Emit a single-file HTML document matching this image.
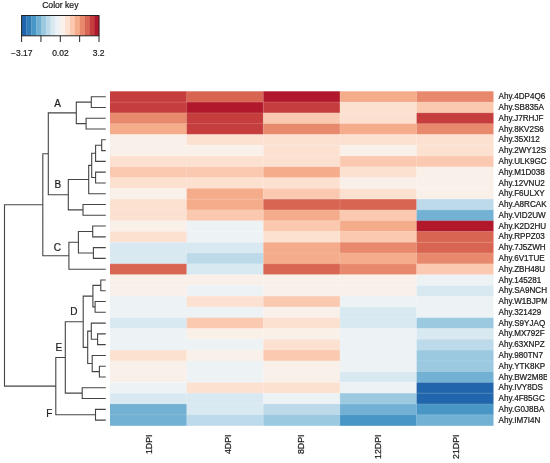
<!DOCTYPE html><html><head><meta charset="utf-8"><style>html,body{margin:0;padding:0;background:#fff;width:550px;height:463px;overflow:hidden}svg{display:block;filter:blur(0.3px)}text{font-family:"Liberation Sans",Arial,sans-serif;stroke:#1a1a1a;stroke-width:0.22px}</style></head><body>
<svg width="550" height="463" viewBox="0 0 550 463">
<rect x="110.00" y="91.30" width="76.94" height="11.08" fill="#c53e3d"/>
<rect x="186.64" y="91.30" width="76.94" height="11.08" fill="#d86551"/>
<rect x="263.28" y="91.30" width="76.94" height="11.08" fill="#b2182b"/>
<rect x="339.92" y="91.30" width="76.94" height="11.08" fill="#f5ac8b"/>
<rect x="416.56" y="91.30" width="76.94" height="11.08" fill="#e8896d"/>
<rect x="110.00" y="102.08" width="76.94" height="11.08" fill="#c53e3d"/>
<rect x="186.64" y="102.08" width="76.94" height="11.08" fill="#b2182b"/>
<rect x="263.28" y="102.08" width="76.94" height="11.08" fill="#c53e3d"/>
<rect x="339.92" y="102.08" width="76.94" height="11.08" fill="#fce1d1"/>
<rect x="416.56" y="102.08" width="76.94" height="11.08" fill="#fac9b0"/>
<rect x="110.00" y="112.86" width="76.94" height="11.08" fill="#e8896d"/>
<rect x="186.64" y="112.86" width="76.94" height="11.08" fill="#c53e3d"/>
<rect x="263.28" y="112.86" width="76.94" height="11.08" fill="#fac9b0"/>
<rect x="339.92" y="112.86" width="76.94" height="11.08" fill="#fce1d1"/>
<rect x="416.56" y="112.86" width="76.94" height="11.08" fill="#c53e3d"/>
<rect x="110.00" y="123.64" width="76.94" height="11.08" fill="#f5ac8b"/>
<rect x="186.64" y="123.64" width="76.94" height="11.08" fill="#c53e3d"/>
<rect x="263.28" y="123.64" width="76.94" height="11.08" fill="#e8896d"/>
<rect x="339.92" y="123.64" width="76.94" height="11.08" fill="#f5ac8b"/>
<rect x="416.56" y="123.64" width="76.94" height="11.08" fill="#e8896d"/>
<rect x="110.00" y="134.42" width="76.94" height="11.08" fill="#f9f0ea"/>
<rect x="186.64" y="134.42" width="76.94" height="11.08" fill="#fce1d1"/>
<rect x="263.28" y="134.42" width="76.94" height="11.08" fill="#fce1d1"/>
<rect x="339.92" y="134.42" width="76.94" height="11.08" fill="#fce1d1"/>
<rect x="416.56" y="134.42" width="76.94" height="11.08" fill="#fce1d1"/>
<rect x="110.00" y="145.20" width="76.94" height="11.08" fill="#f9f0ea"/>
<rect x="186.64" y="145.20" width="76.94" height="11.08" fill="#f9f0ea"/>
<rect x="263.28" y="145.20" width="76.94" height="11.08" fill="#fce1d1"/>
<rect x="339.92" y="145.20" width="76.94" height="11.08" fill="#f9f0ea"/>
<rect x="416.56" y="145.20" width="76.94" height="11.08" fill="#fce1d1"/>
<rect x="110.00" y="155.98" width="76.94" height="11.08" fill="#fce1d1"/>
<rect x="186.64" y="155.98" width="76.94" height="11.08" fill="#fce1d1"/>
<rect x="263.28" y="155.98" width="76.94" height="11.08" fill="#fce1d1"/>
<rect x="339.92" y="155.98" width="76.94" height="11.08" fill="#fac9b0"/>
<rect x="416.56" y="155.98" width="76.94" height="11.08" fill="#fac9b0"/>
<rect x="110.00" y="166.76" width="76.94" height="11.08" fill="#fac9b0"/>
<rect x="186.64" y="166.76" width="76.94" height="11.08" fill="#fac9b0"/>
<rect x="263.28" y="166.76" width="76.94" height="11.08" fill="#f5ac8b"/>
<rect x="339.92" y="166.76" width="76.94" height="11.08" fill="#fce1d1"/>
<rect x="416.56" y="166.76" width="76.94" height="11.08" fill="#f9f0ea"/>
<rect x="110.00" y="177.55" width="76.94" height="11.08" fill="#fce1d1"/>
<rect x="186.64" y="177.55" width="76.94" height="11.08" fill="#fce1d1"/>
<rect x="263.28" y="177.55" width="76.94" height="11.08" fill="#fce1d1"/>
<rect x="339.92" y="177.55" width="76.94" height="11.08" fill="#f9f0ea"/>
<rect x="416.56" y="177.55" width="76.94" height="11.08" fill="#f9f0ea"/>
<rect x="110.00" y="188.33" width="76.94" height="11.08" fill="#f9f0ea"/>
<rect x="186.64" y="188.33" width="76.94" height="11.08" fill="#f5ac8b"/>
<rect x="263.28" y="188.33" width="76.94" height="11.08" fill="#fac9b0"/>
<rect x="339.92" y="188.33" width="76.94" height="11.08" fill="#fce1d1"/>
<rect x="416.56" y="188.33" width="76.94" height="11.08" fill="#f9f0ea"/>
<rect x="110.00" y="199.11" width="76.94" height="11.08" fill="#fce1d1"/>
<rect x="186.64" y="199.11" width="76.94" height="11.08" fill="#f5ac8b"/>
<rect x="263.28" y="199.11" width="76.94" height="11.08" fill="#d86551"/>
<rect x="339.92" y="199.11" width="76.94" height="11.08" fill="#d86551"/>
<rect x="416.56" y="199.11" width="76.94" height="11.08" fill="#bcdaea"/>
<rect x="110.00" y="209.89" width="76.94" height="11.08" fill="#fce1d1"/>
<rect x="186.64" y="209.89" width="76.94" height="11.08" fill="#fac9b0"/>
<rect x="263.28" y="209.89" width="76.94" height="11.08" fill="#f5ac8b"/>
<rect x="339.92" y="209.89" width="76.94" height="11.08" fill="#fac9b0"/>
<rect x="416.56" y="209.89" width="76.94" height="11.08" fill="#72b1d3"/>
<rect x="110.00" y="220.67" width="76.94" height="11.08" fill="#f9f0ea"/>
<rect x="186.64" y="220.67" width="76.94" height="11.08" fill="#edf2f5"/>
<rect x="263.28" y="220.67" width="76.94" height="11.08" fill="#fac9b0"/>
<rect x="339.92" y="220.67" width="76.94" height="11.08" fill="#f5ac8b"/>
<rect x="416.56" y="220.67" width="76.94" height="11.08" fill="#b2182b"/>
<rect x="110.00" y="231.45" width="76.94" height="11.08" fill="#fce1d1"/>
<rect x="186.64" y="231.45" width="76.94" height="11.08" fill="#edf2f5"/>
<rect x="263.28" y="231.45" width="76.94" height="11.08" fill="#fce1d1"/>
<rect x="339.92" y="231.45" width="76.94" height="11.08" fill="#fac9b0"/>
<rect x="416.56" y="231.45" width="76.94" height="11.08" fill="#d86551"/>
<rect x="110.00" y="242.23" width="76.94" height="11.08" fill="#d9e9f1"/>
<rect x="186.64" y="242.23" width="76.94" height="11.08" fill="#d9e9f1"/>
<rect x="263.28" y="242.23" width="76.94" height="11.08" fill="#f5ac8b"/>
<rect x="339.92" y="242.23" width="76.94" height="11.08" fill="#e8896d"/>
<rect x="416.56" y="242.23" width="76.94" height="11.08" fill="#d86551"/>
<rect x="110.00" y="253.01" width="76.94" height="11.08" fill="#d9e9f1"/>
<rect x="186.64" y="253.01" width="76.94" height="11.08" fill="#bcdaea"/>
<rect x="263.28" y="253.01" width="76.94" height="11.08" fill="#f5ac8b"/>
<rect x="339.92" y="253.01" width="76.94" height="11.08" fill="#f5ac8b"/>
<rect x="416.56" y="253.01" width="76.94" height="11.08" fill="#e8896d"/>
<rect x="110.00" y="263.79" width="76.94" height="11.08" fill="#d86551"/>
<rect x="186.64" y="263.79" width="76.94" height="11.08" fill="#d9e9f1"/>
<rect x="263.28" y="263.79" width="76.94" height="11.08" fill="#d86551"/>
<rect x="339.92" y="263.79" width="76.94" height="11.08" fill="#e8896d"/>
<rect x="416.56" y="263.79" width="76.94" height="11.08" fill="#fac9b0"/>
<rect x="110.00" y="274.57" width="76.94" height="11.08" fill="#f9f0ea"/>
<rect x="186.64" y="274.57" width="76.94" height="11.08" fill="#f9f0ea"/>
<rect x="263.28" y="274.57" width="76.94" height="11.08" fill="#f9f0ea"/>
<rect x="339.92" y="274.57" width="76.94" height="11.08" fill="#f9f0ea"/>
<rect x="416.56" y="274.57" width="76.94" height="11.08" fill="#edf2f5"/>
<rect x="110.00" y="285.35" width="76.94" height="11.08" fill="#f9f0ea"/>
<rect x="186.64" y="285.35" width="76.94" height="11.08" fill="#edf2f5"/>
<rect x="263.28" y="285.35" width="76.94" height="11.08" fill="#f9f0ea"/>
<rect x="339.92" y="285.35" width="76.94" height="11.08" fill="#f9f0ea"/>
<rect x="416.56" y="285.35" width="76.94" height="11.08" fill="#d9e9f1"/>
<rect x="110.00" y="296.13" width="76.94" height="11.08" fill="#edf2f5"/>
<rect x="186.64" y="296.13" width="76.94" height="11.08" fill="#fce1d1"/>
<rect x="263.28" y="296.13" width="76.94" height="11.08" fill="#fac9b0"/>
<rect x="339.92" y="296.13" width="76.94" height="11.08" fill="#edf2f5"/>
<rect x="416.56" y="296.13" width="76.94" height="11.08" fill="#edf2f5"/>
<rect x="110.00" y="306.91" width="76.94" height="11.08" fill="#edf2f5"/>
<rect x="186.64" y="306.91" width="76.94" height="11.08" fill="#edf2f5"/>
<rect x="263.28" y="306.91" width="76.94" height="11.08" fill="#f9f0ea"/>
<rect x="339.92" y="306.91" width="76.94" height="11.08" fill="#d9e9f1"/>
<rect x="416.56" y="306.91" width="76.94" height="11.08" fill="#edf2f5"/>
<rect x="110.00" y="317.69" width="76.94" height="11.08" fill="#d9e9f1"/>
<rect x="186.64" y="317.69" width="76.94" height="11.08" fill="#fac9b0"/>
<rect x="263.28" y="317.69" width="76.94" height="11.08" fill="#fce1d1"/>
<rect x="339.92" y="317.69" width="76.94" height="11.08" fill="#d9e9f1"/>
<rect x="416.56" y="317.69" width="76.94" height="11.08" fill="#9ac9e0"/>
<rect x="110.00" y="328.47" width="76.94" height="11.08" fill="#edf2f5"/>
<rect x="186.64" y="328.47" width="76.94" height="11.08" fill="#f9f0ea"/>
<rect x="263.28" y="328.47" width="76.94" height="11.08" fill="#f9f0ea"/>
<rect x="339.92" y="328.47" width="76.94" height="11.08" fill="#edf2f5"/>
<rect x="416.56" y="328.47" width="76.94" height="11.08" fill="#d9e9f1"/>
<rect x="110.00" y="339.25" width="76.94" height="11.08" fill="#edf2f5"/>
<rect x="186.64" y="339.25" width="76.94" height="11.08" fill="#edf2f5"/>
<rect x="263.28" y="339.25" width="76.94" height="11.08" fill="#fce1d1"/>
<rect x="339.92" y="339.25" width="76.94" height="11.08" fill="#edf2f5"/>
<rect x="416.56" y="339.25" width="76.94" height="11.08" fill="#bcdaea"/>
<rect x="110.00" y="350.04" width="76.94" height="11.08" fill="#fce1d1"/>
<rect x="186.64" y="350.04" width="76.94" height="11.08" fill="#f9f0ea"/>
<rect x="263.28" y="350.04" width="76.94" height="11.08" fill="#fac9b0"/>
<rect x="339.92" y="350.04" width="76.94" height="11.08" fill="#edf2f5"/>
<rect x="416.56" y="350.04" width="76.94" height="11.08" fill="#9ac9e0"/>
<rect x="110.00" y="360.82" width="76.94" height="11.08" fill="#f9f0ea"/>
<rect x="186.64" y="360.82" width="76.94" height="11.08" fill="#edf2f5"/>
<rect x="263.28" y="360.82" width="76.94" height="11.08" fill="#f9f0ea"/>
<rect x="339.92" y="360.82" width="76.94" height="11.08" fill="#edf2f5"/>
<rect x="416.56" y="360.82" width="76.94" height="11.08" fill="#9ac9e0"/>
<rect x="110.00" y="371.60" width="76.94" height="11.08" fill="#f9f0ea"/>
<rect x="186.64" y="371.60" width="76.94" height="11.08" fill="#edf2f5"/>
<rect x="263.28" y="371.60" width="76.94" height="11.08" fill="#f9f0ea"/>
<rect x="339.92" y="371.60" width="76.94" height="11.08" fill="#d9e9f1"/>
<rect x="416.56" y="371.60" width="76.94" height="11.08" fill="#72b1d3"/>
<rect x="110.00" y="382.38" width="76.94" height="11.08" fill="#edf2f5"/>
<rect x="186.64" y="382.38" width="76.94" height="11.08" fill="#fce1d1"/>
<rect x="263.28" y="382.38" width="76.94" height="11.08" fill="#fce1d1"/>
<rect x="339.92" y="382.38" width="76.94" height="11.08" fill="#edf2f5"/>
<rect x="416.56" y="382.38" width="76.94" height="11.08" fill="#2166ac"/>
<rect x="110.00" y="393.16" width="76.94" height="11.08" fill="#d9e9f1"/>
<rect x="186.64" y="393.16" width="76.94" height="11.08" fill="#d9e9f1"/>
<rect x="263.28" y="393.16" width="76.94" height="11.08" fill="#edf2f5"/>
<rect x="339.92" y="393.16" width="76.94" height="11.08" fill="#9ac9e0"/>
<rect x="416.56" y="393.16" width="76.94" height="11.08" fill="#2166ac"/>
<rect x="110.00" y="403.94" width="76.94" height="11.08" fill="#72b1d3"/>
<rect x="186.64" y="403.94" width="76.94" height="11.08" fill="#d9e9f1"/>
<rect x="263.28" y="403.94" width="76.94" height="11.08" fill="#bcdaea"/>
<rect x="339.92" y="403.94" width="76.94" height="11.08" fill="#72b1d3"/>
<rect x="416.56" y="403.94" width="76.94" height="11.08" fill="#4896c5"/>
<rect x="110.00" y="414.72" width="76.94" height="11.08" fill="#72b1d3"/>
<rect x="186.64" y="414.72" width="76.94" height="11.08" fill="#bcdaea"/>
<rect x="263.28" y="414.72" width="76.94" height="11.08" fill="#9ac9e0"/>
<rect x="339.92" y="414.72" width="76.94" height="11.08" fill="#4896c5"/>
<rect x="416.56" y="414.72" width="76.94" height="11.08" fill="#72b1d3"/>
<defs><clipPath id="cl"><rect x="490" y="80" width="56.9" height="360"/></clipPath></defs><g clip-path="url(#cl)">
<text transform="translate(498.6,99.29) scale(1,1.1)" font-size="8.1" fill="#1a1a1a">Ahy.4DP4Q6</text>
<text transform="translate(498.6,110.07) scale(1,1.1)" font-size="8.1" fill="#1a1a1a">Ahy.SB835A</text>
<text transform="translate(498.6,120.85) scale(1,1.1)" font-size="8.1" fill="#1a1a1a">Ahy.J7RHJF</text>
<text transform="translate(498.6,131.63) scale(1,1.1)" font-size="8.1" fill="#1a1a1a">Ahy.8KV2S6</text>
<text transform="translate(498.6,142.41) scale(1,1.1)" font-size="8.1" fill="#1a1a1a">Ahy.35XI12</text>
<text transform="translate(498.6,153.19) scale(1,1.1)" font-size="8.1" fill="#1a1a1a">Ahy.2WY12S</text>
<text transform="translate(498.6,163.97) scale(1,1.1)" font-size="8.1" fill="#1a1a1a">Ahy.ULK9GC</text>
<text transform="translate(498.6,174.75) scale(1,1.1)" font-size="8.1" fill="#1a1a1a">Ahy.M1D038</text>
<text transform="translate(498.6,185.54) scale(1,1.1)" font-size="8.1" fill="#1a1a1a">Ahy.12VNU2</text>
<text transform="translate(498.6,196.32) scale(1,1.1)" font-size="8.1" fill="#1a1a1a">Ahy.F6ULXY</text>
<text transform="translate(498.6,207.10) scale(1,1.1)" font-size="8.1" fill="#1a1a1a">Ahy.A8RCAK</text>
<text transform="translate(498.6,217.88) scale(1,1.1)" font-size="8.1" fill="#1a1a1a">Ahy.VID2UW</text>
<text transform="translate(498.6,228.66) scale(1,1.1)" font-size="8.1" fill="#1a1a1a">Ahy.K2D2HU</text>
<text transform="translate(498.6,239.44) scale(1,1.1)" font-size="8.1" fill="#1a1a1a">Ahy.RPPZ03</text>
<text transform="translate(498.6,250.22) scale(1,1.1)" font-size="8.1" fill="#1a1a1a">Ahy.7J5ZWH</text>
<text transform="translate(498.6,261.00) scale(1,1.1)" font-size="8.1" fill="#1a1a1a">Ahy.6V1TUE</text>
<text transform="translate(498.6,271.78) scale(1,1.1)" font-size="8.1" fill="#1a1a1a">Ahy.ZBH48U</text>
<text transform="translate(498.6,282.56) scale(1,1.1)" font-size="8.1" fill="#1a1a1a">Ahy.145281</text>
<text transform="translate(498.6,293.34) scale(1,1.1)" font-size="8.1" fill="#1a1a1a">Ahy.SA9NCH</text>
<text transform="translate(498.6,304.12) scale(1,1.1)" font-size="8.1" fill="#1a1a1a">Ahy.W1BJPM</text>
<text transform="translate(498.6,314.90) scale(1,1.1)" font-size="8.1" fill="#1a1a1a">Ahy.321429</text>
<text transform="translate(498.6,325.68) scale(1,1.1)" font-size="8.1" fill="#1a1a1a">Ahy.S9YJAQ</text>
<text transform="translate(498.6,336.46) scale(1,1.1)" font-size="8.1" fill="#1a1a1a">Ahy.MX792F</text>
<text transform="translate(498.6,347.25) scale(1,1.1)" font-size="8.1" fill="#1a1a1a">Ahy.63XNPZ</text>
<text transform="translate(498.6,358.03) scale(1,1.1)" font-size="8.1" fill="#1a1a1a">Ahy.980TN7</text>
<text transform="translate(498.6,368.81) scale(1,1.1)" font-size="8.1" fill="#1a1a1a">Ahy.YTK8KP</text>
<text transform="translate(498.6,379.59) scale(1,1.1)" font-size="8.1" fill="#1a1a1a">Ahy.BW2M8B</text>
<text transform="translate(498.6,390.37) scale(1,1.1)" font-size="8.1" fill="#1a1a1a">Ahy.IVY8DS</text>
<text transform="translate(498.6,401.15) scale(1,1.1)" font-size="8.1" fill="#1a1a1a">Ahy.4F85GC</text>
<text transform="translate(498.6,411.93) scale(1,1.1)" font-size="8.1" fill="#1a1a1a">Ahy.G0J8BA</text>
<text transform="translate(498.6,422.71) scale(1,1.1)" font-size="8.1" fill="#1a1a1a">Ahy.IM7I4N</text>
</g>
<line x1="110.0" y1="102.08" x2="493.2" y2="102.08" stroke="#fff" stroke-opacity="0.18" stroke-width="0.8"/>
<line x1="110.0" y1="112.86" x2="493.2" y2="112.86" stroke="#fff" stroke-opacity="0.18" stroke-width="0.8"/>
<line x1="110.0" y1="123.64" x2="493.2" y2="123.64" stroke="#fff" stroke-opacity="0.18" stroke-width="0.8"/>
<line x1="110.0" y1="134.42" x2="493.2" y2="134.42" stroke="#fff" stroke-opacity="0.18" stroke-width="0.8"/>
<line x1="110.0" y1="145.20" x2="493.2" y2="145.20" stroke="#fff" stroke-opacity="0.18" stroke-width="0.8"/>
<line x1="110.0" y1="155.98" x2="493.2" y2="155.98" stroke="#fff" stroke-opacity="0.18" stroke-width="0.8"/>
<line x1="110.0" y1="166.76" x2="493.2" y2="166.76" stroke="#fff" stroke-opacity="0.18" stroke-width="0.8"/>
<line x1="110.0" y1="177.55" x2="493.2" y2="177.55" stroke="#fff" stroke-opacity="0.18" stroke-width="0.8"/>
<line x1="110.0" y1="188.33" x2="493.2" y2="188.33" stroke="#fff" stroke-opacity="0.18" stroke-width="0.8"/>
<line x1="110.0" y1="199.11" x2="493.2" y2="199.11" stroke="#fff" stroke-opacity="0.18" stroke-width="0.8"/>
<line x1="110.0" y1="209.89" x2="493.2" y2="209.89" stroke="#fff" stroke-opacity="0.18" stroke-width="0.8"/>
<line x1="110.0" y1="220.67" x2="493.2" y2="220.67" stroke="#fff" stroke-opacity="0.18" stroke-width="0.8"/>
<line x1="110.0" y1="231.45" x2="493.2" y2="231.45" stroke="#fff" stroke-opacity="0.18" stroke-width="0.8"/>
<line x1="110.0" y1="242.23" x2="493.2" y2="242.23" stroke="#fff" stroke-opacity="0.18" stroke-width="0.8"/>
<line x1="110.0" y1="253.01" x2="493.2" y2="253.01" stroke="#fff" stroke-opacity="0.18" stroke-width="0.8"/>
<line x1="110.0" y1="263.79" x2="493.2" y2="263.79" stroke="#fff" stroke-opacity="0.18" stroke-width="0.8"/>
<line x1="110.0" y1="274.57" x2="493.2" y2="274.57" stroke="#fff" stroke-opacity="0.18" stroke-width="0.8"/>
<line x1="110.0" y1="285.35" x2="493.2" y2="285.35" stroke="#fff" stroke-opacity="0.18" stroke-width="0.8"/>
<line x1="110.0" y1="296.13" x2="493.2" y2="296.13" stroke="#fff" stroke-opacity="0.18" stroke-width="0.8"/>
<line x1="110.0" y1="306.91" x2="493.2" y2="306.91" stroke="#fff" stroke-opacity="0.18" stroke-width="0.8"/>
<line x1="110.0" y1="317.69" x2="493.2" y2="317.69" stroke="#fff" stroke-opacity="0.18" stroke-width="0.8"/>
<line x1="110.0" y1="328.47" x2="493.2" y2="328.47" stroke="#fff" stroke-opacity="0.18" stroke-width="0.8"/>
<line x1="110.0" y1="339.25" x2="493.2" y2="339.25" stroke="#fff" stroke-opacity="0.18" stroke-width="0.8"/>
<line x1="110.0" y1="350.04" x2="493.2" y2="350.04" stroke="#fff" stroke-opacity="0.18" stroke-width="0.8"/>
<line x1="110.0" y1="360.82" x2="493.2" y2="360.82" stroke="#fff" stroke-opacity="0.18" stroke-width="0.8"/>
<line x1="110.0" y1="371.60" x2="493.2" y2="371.60" stroke="#fff" stroke-opacity="0.18" stroke-width="0.8"/>
<line x1="110.0" y1="382.38" x2="493.2" y2="382.38" stroke="#fff" stroke-opacity="0.18" stroke-width="0.8"/>
<line x1="110.0" y1="393.16" x2="493.2" y2="393.16" stroke="#fff" stroke-opacity="0.18" stroke-width="0.8"/>
<line x1="110.0" y1="403.94" x2="493.2" y2="403.94" stroke="#fff" stroke-opacity="0.18" stroke-width="0.8"/>
<line x1="110.0" y1="414.72" x2="493.2" y2="414.72" stroke="#fff" stroke-opacity="0.18" stroke-width="0.8"/>
<line x1="186.64" y1="91.3" x2="186.64" y2="425.5" stroke="#fff" stroke-opacity="0.18" stroke-width="0.8"/>
<line x1="263.28" y1="91.3" x2="263.28" y2="425.5" stroke="#fff" stroke-opacity="0.18" stroke-width="0.8"/>
<line x1="339.92" y1="91.3" x2="339.92" y2="425.5" stroke="#fff" stroke-opacity="0.18" stroke-width="0.8"/>
<line x1="416.56" y1="91.3" x2="416.56" y2="425.5" stroke="#fff" stroke-opacity="0.18" stroke-width="0.8"/>
<text transform="translate(151.92,434.5) rotate(-90)" text-anchor="end" font-size="8.8" fill="#222">1DPI</text>
<text transform="translate(230.56,434.5) rotate(-90)" text-anchor="end" font-size="8.8" fill="#222">4DPI</text>
<text transform="translate(303.90,434.5) rotate(-90)" text-anchor="end" font-size="8.8" fill="#222">8DPI</text>
<text transform="translate(381.34,434.5) rotate(-90)" text-anchor="end" font-size="8.8" fill="#222">12DPI</text>
<text transform="translate(458.78,434.5) rotate(-90)" text-anchor="end" font-size="8.8" fill="#222">21DPI</text>
<rect x="21.60" y="15.5" width="5.04" height="20.299999999999997" fill="#2166ac"/>
<rect x="26.44" y="15.5" width="5.04" height="20.299999999999997" fill="#337eb8"/>
<rect x="31.28" y="15.5" width="5.04" height="20.299999999999997" fill="#4896c5"/>
<rect x="36.11" y="15.5" width="5.04" height="20.299999999999997" fill="#72b1d3"/>
<rect x="40.95" y="15.5" width="5.04" height="20.299999999999997" fill="#9ac9e0"/>
<rect x="45.79" y="15.5" width="5.04" height="20.299999999999997" fill="#bcdaea"/>
<rect x="50.62" y="15.5" width="5.04" height="20.299999999999997" fill="#d9e9f1"/>
<rect x="55.46" y="15.5" width="5.04" height="20.299999999999997" fill="#edf2f5"/>
<rect x="60.30" y="15.5" width="5.04" height="20.299999999999997" fill="#f9f0ea"/>
<rect x="65.14" y="15.5" width="5.04" height="20.299999999999997" fill="#fce1d1"/>
<rect x="69.97" y="15.5" width="5.04" height="20.299999999999997" fill="#fac9b0"/>
<rect x="74.81" y="15.5" width="5.04" height="20.299999999999997" fill="#f5ac8b"/>
<rect x="79.65" y="15.5" width="5.04" height="20.299999999999997" fill="#e8896d"/>
<rect x="84.49" y="15.5" width="5.04" height="20.299999999999997" fill="#d86551"/>
<rect x="89.33" y="15.5" width="5.04" height="20.299999999999997" fill="#c53e3d"/>
<rect x="94.16" y="15.5" width="5.04" height="20.299999999999997" fill="#b2182b"/>
<rect x="21.6" y="15.5" width="77.40" height="20.299999999999997" fill="none" stroke="#222" stroke-width="1"/>
<line x1="21.60" y1="35.8" x2="21.60" y2="42" stroke="#222" stroke-width="1"/>
<line x1="40.95" y1="35.8" x2="40.95" y2="42" stroke="#222" stroke-width="1"/>
<line x1="60.30" y1="35.8" x2="60.30" y2="42" stroke="#222" stroke-width="1"/>
<line x1="79.65" y1="35.8" x2="79.65" y2="42" stroke="#222" stroke-width="1"/>
<line x1="99.00" y1="35.8" x2="99.00" y2="42" stroke="#222" stroke-width="1"/>
<text x="21.7" y="56.2" text-anchor="middle" font-size="8.5" fill="#222">−3.17</text>
<text x="60.4" y="56.2" text-anchor="middle" font-size="8.5" fill="#222">0.02</text>
<text x="98.7" y="56.2" text-anchor="middle" font-size="8.5" fill="#222">3.2</text>
<text x="60.3" y="8.3" text-anchor="middle" font-size="8.6" fill="#222">Color key</text>
<path d="M91.30 96.69L91.30 107.47 M91.30 96.69L105.20 96.69 M91.30 107.47L105.20 107.47 M86.10 118.25L86.10 129.03 M86.10 118.25L105.20 118.25 M86.10 129.03L105.20 129.03 M76.30 102.08L76.30 123.64 M76.30 102.08L91.30 102.08 M76.30 123.64L86.10 123.64 M101.70 139.81L101.70 150.59 M101.70 139.81L105.20 139.81 M101.70 150.59L105.20 150.59 M95.60 145.20L95.60 161.37 M95.60 145.20L101.70 145.20 M95.60 161.37L105.20 161.37 M95.60 172.15L95.60 182.94 M95.60 172.15L105.20 172.15 M95.60 182.94L105.20 182.94 M91.70 153.29L91.70 177.55 M91.70 153.29L95.60 153.29 M91.70 177.55L95.60 177.55 M88.70 165.42L88.70 193.72 M88.70 165.42L91.70 165.42 M88.70 193.72L105.20 193.72 M83.00 204.50L83.00 215.28 M83.00 204.50L105.20 204.50 M83.00 215.28L105.20 215.28 M68.30 179.57L68.30 209.89 M68.30 179.57L88.70 179.57 M68.30 209.89L83.00 209.89 M48.30 112.86L48.30 194.73 M48.30 112.86L76.30 112.86 M48.30 194.73L68.30 194.73 M92.70 226.06L92.70 236.84 M92.70 226.06L105.20 226.06 M92.70 236.84L105.20 236.84 M93.40 247.62L93.40 258.40 M93.40 247.62L105.20 247.62 M93.40 258.40L105.20 258.40 M78.40 231.45L78.40 253.01 M78.40 231.45L92.70 231.45 M78.40 253.01L93.40 253.01 M68.90 242.23L68.90 269.18 M68.90 242.23L78.40 242.23 M68.90 269.18L105.20 269.18 M42.80 153.79L42.80 255.70 M42.80 153.79L48.30 153.79 M42.80 255.70L68.90 255.70 M100.80 279.96L100.80 290.74 M100.80 279.96L105.20 279.96 M100.80 290.74L105.20 290.74 M95.10 301.52L95.10 312.30 M95.10 301.52L105.20 301.52 M95.10 312.30L105.20 312.30 M92.90 285.35L92.90 306.91 M92.90 285.35L100.80 285.35 M92.90 306.91L95.10 306.91 M97.60 333.86L97.60 344.65 M97.60 333.86L105.20 333.86 M97.60 344.65L105.20 344.65 M91.30 323.08L91.30 339.25 M91.30 323.08L105.20 323.08 M91.30 339.25L97.60 339.25 M99.40 366.21L99.40 376.99 M99.40 366.21L105.20 366.21 M99.40 376.99L105.20 376.99 M92.20 355.43L92.20 371.60 M92.20 355.43L105.20 355.43 M92.20 371.60L99.40 371.60 M87.70 331.17L87.70 363.51 M87.70 331.17L91.30 331.17 M87.70 363.51L92.20 363.51 M83.20 296.13L83.20 347.34 M83.20 296.13L92.90 296.13 M83.20 347.34L87.70 347.34 M82.20 387.77L82.20 398.55 M82.20 387.77L105.20 387.77 M82.20 398.55L105.20 398.55 M65.30 321.74L65.30 393.16 M65.30 321.74L83.20 321.74 M65.30 393.16L82.20 393.16 M95.50 409.33L95.50 420.11 M95.50 409.33L105.20 409.33 M95.50 420.11L105.20 420.11 M55.80 357.45L55.80 414.72 M55.80 357.45L65.30 357.45 M55.80 414.72L95.50 414.72 M4.50 204.75L4.50 386.08 M4.50 204.75L42.80 204.75 M4.50 386.08L55.80 386.08" stroke="#444" stroke-width="1.1" fill="none" stroke-linecap="square"/>
<text x="57.6" y="106.6" text-anchor="middle" font-size="10" fill="#222">A</text>
<text x="57.9" y="187.9" text-anchor="middle" font-size="10" fill="#222">B</text>
<text x="57.4" y="251.4" text-anchor="middle" font-size="10" fill="#222">C</text>
<text x="73.8" y="314.6" text-anchor="middle" font-size="10" fill="#222">D</text>
<text x="58.9" y="351.4" text-anchor="middle" font-size="10" fill="#222">E</text>
<text x="49.4" y="416.8" text-anchor="middle" font-size="10" fill="#222">F</text>
</svg></body></html>
